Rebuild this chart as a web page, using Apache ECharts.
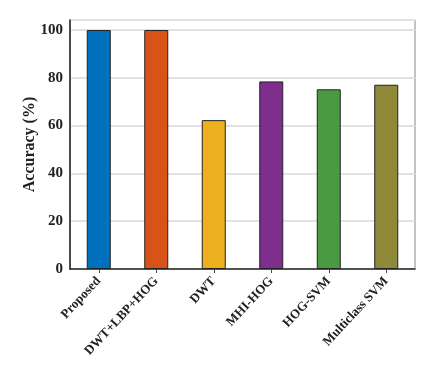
<!DOCTYPE html>
<html>
<head>
<meta charset="utf-8">
<script src="https://cdn.jsdelivr.net/npm/echarts@6/dist/echarts.min.js"></script>
<style>
  html, body { margin: 0; padding: 0; background: #fff; }
  #chart { width: 443px; height: 369px; }
</style>
</head>
<body>
<div id="chart"></div>
<script>
var methods = ['Proposed', 'DWT+LBP+HOG', 'DWT', 'MHI-HOG', 'HOG-SVM', 'Multiclass SVM'];
var accuracy = [100, 100, 62.3, 78.5, 75.2, 77.1];
var barColors = ['#0072BD', '#D95319', '#EDB120', '#7E2F8E', '#4A9A42', '#8E8A3A'];
var yTicks = [0, 20, 40, 60, 80, 100];

var chart = echarts.init(document.getElementById('chart'));
var font = 'Liberation Serif';

var option = {
  backgroundColor: '#fff',
  animation: false,
  grid: {
    left: 70, right: 28, top: 20, bottom: 100,
    show: true, borderColor: '#888', borderWidth: 1
  },
  xAxis: {
    type: 'category',
    data: methods,
    axisLine: { lineStyle: { color: '#222', width: 1.5 } },
    axisTick: { show: true, alignWithLabel: true, length: 4, lineStyle: { color: '#444' } },
    axisLabel: {
      rotate: 47, color: '#222', fontFamily: font, fontWeight: 'bold',
      fontSize: 13, margin: 10, interval: 0
    }
  },
  yAxis: {
    type: 'value',
    min: 0, max: 104.2, interval: 20,
    name: 'Accuracy (%)',
    nameLocation: 'middle',
    nameGap: 32,
    nameMoveOverlap: false,
    nameTextStyle: { fontFamily: font, fontWeight: 'bold', fontSize: 16, color: '#222' },
    axisLine: { show: true, lineStyle: { color: '#222', width: 1.5 } },
    axisTick: { show: false },
    axisLabel: {
      color: '#222', fontFamily: font, fontWeight: 'bold', fontSize: 15, margin: 7,
      formatter: function (v) { return yTicks.indexOf(v) >= 0 ? v : ''; }
    },
    splitLine: { show: true, lineStyle: { color: '#e2e2e2', width: 2 } }
  },
  series: [{
    type: 'bar',
    barWidth: 24,
    data: accuracy.map(function (v, i) {
      return { value: v, itemStyle: { color: barColors[i] } };
    }),
    itemStyle: { borderColor: '#222', borderWidth: 1 }
  }]
};

chart.setOption(option);
</script>
</body>
</html>
